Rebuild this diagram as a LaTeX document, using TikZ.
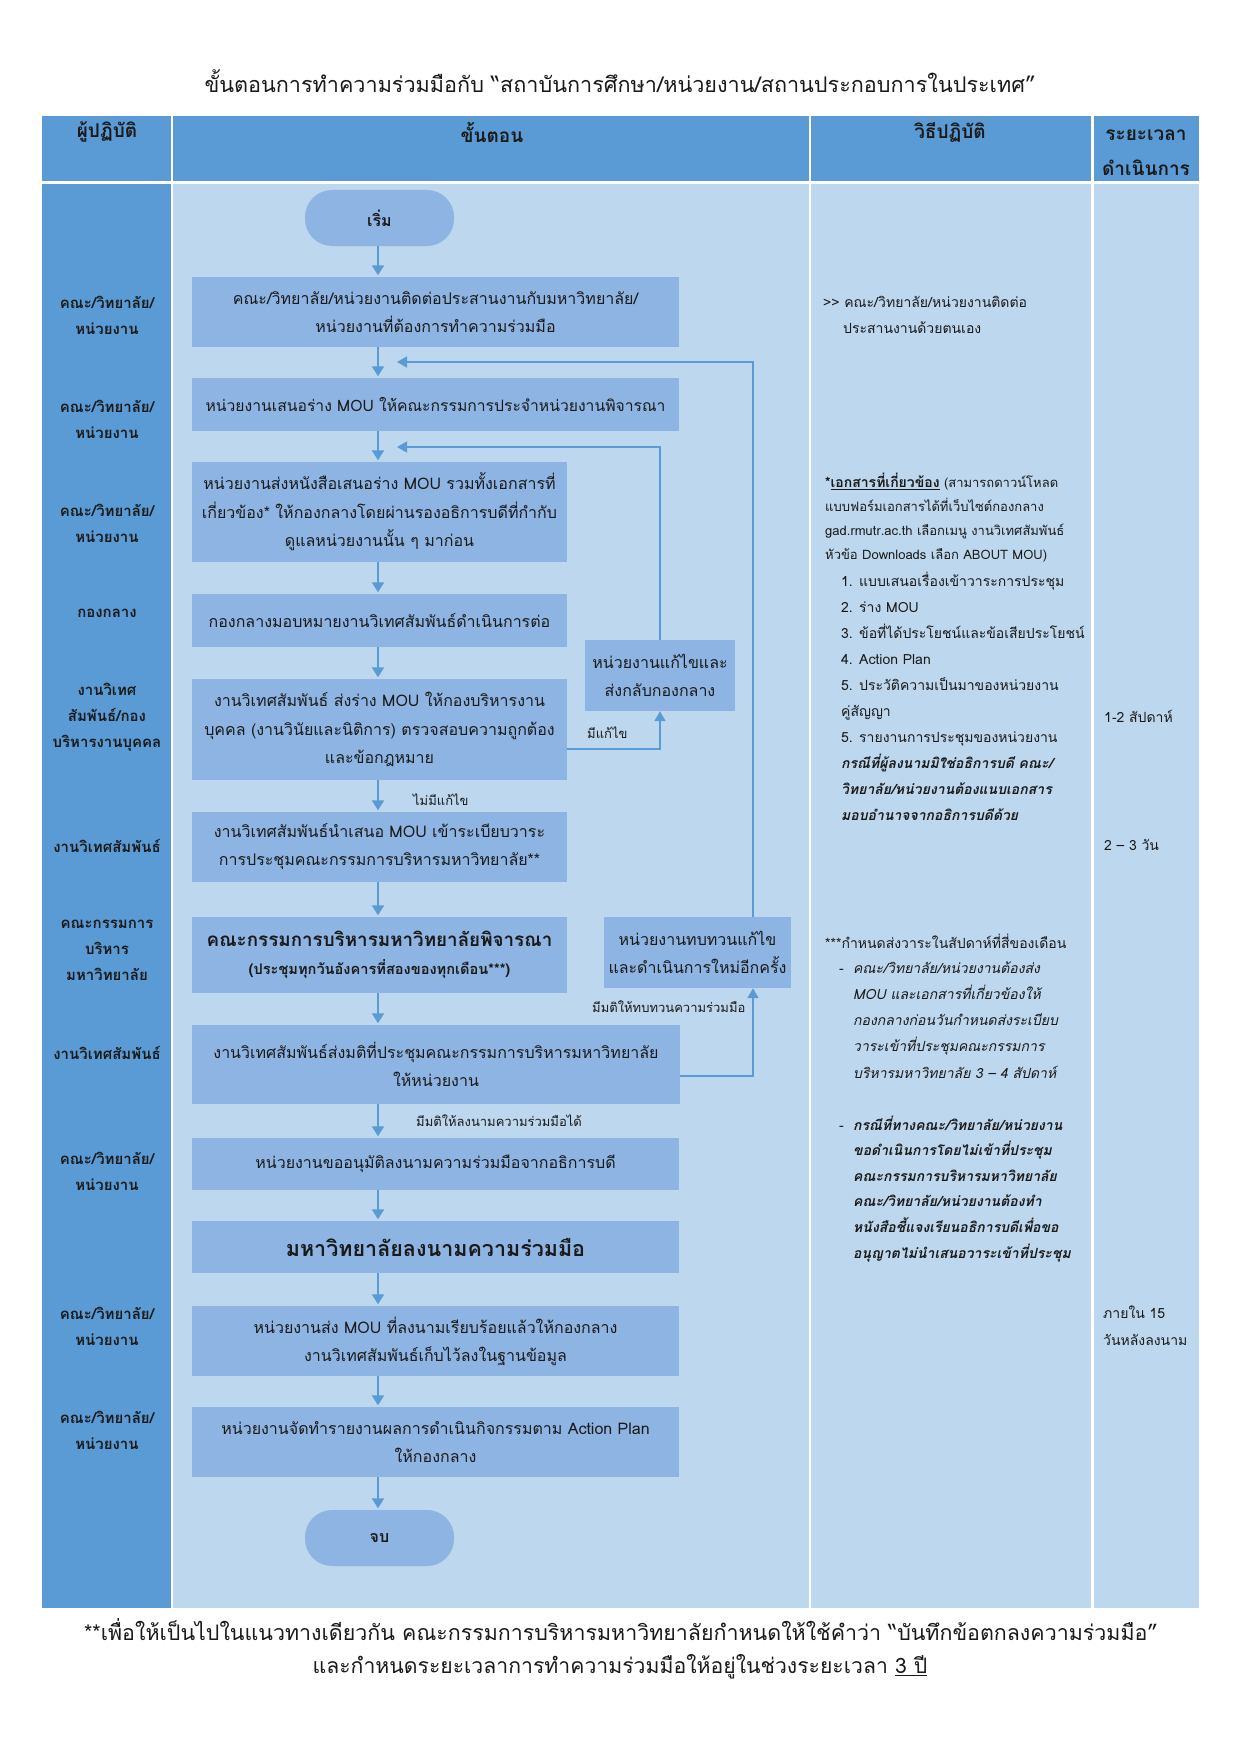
\documentclass[tikz,border=0pt]{standalone}
\usepackage{fontspec}
\setmainfont{Loma}[Script=Thai]
\usetikzlibrary{arrows.meta}
\definecolor{hdr}{HTML}{5B9BD5}
\definecolor{lite}{HTML}{BDD7EE}
\definecolor{boxc}{HTML}{8DB4E2}
\definecolor{txt}{HTML}{1A1A1A}
\newcommand\myfs[2]{\fontsize{#1}{#2}\selectfont}
\tikzset{
  every node/.style={inner sep=0pt, text=txt},
  flow/.style={fill=boxc, align=center, font=\myfs{16}{28}},
  term/.style={fill=boxc, rounded corners=27pt, minimum width=149pt, minimum height=56pt, font=\bfseries\myfs{16}{20}},
  lane/.style={align=center, font=\bfseries\myfs{15}{26}},
  hd/.style={font=\bfseries\myfs{19}{33}, align=center},
  note/.style={align=left, anchor=base west, font=\myfs{14}{26}},
  arr/.style={draw=hdr, line width=2pt, -{Triangle[width=12pt,length=10pt]}, shorten >=1.5pt},
  fb/.style={draw=hdr, line width=1.6pt, -{Triangle[width=11pt,length=10pt]}},
  lbl/.style={anchor=west, font=\myfs{13}{16}},
}
\begin{document}
\begin{tikzpicture}[x=1pt,y=-1pt]
\useasboundingbox[fill=white] (0,0) rectangle (1241,1755);
% title
\node[font=\myfs{21.6}{26}] (title) at (620,81) {ขั้นตอนการทำความร่วมมือกับ “สถาบันการศึกษา/หน่วยงาน/สถานประกอบการในประเทศ”};
% table
\fill[hdr] (42,116) rectangle (1199,1608);
\fill[lite] (172,183) rectangle (1199,1608);
\draw[white,line width=2.5pt] (42,182.5) -- (1199,182.5);
\draw[white,line width=2.2pt] (172,116) -- (172,1608);
\draw[white,line width=2.2pt] (810,116) -- (810,1608);
\draw[white,line width=2.2pt] (1092.5,116) -- (1092.5,1608);
% headers
\node[hd] (h1) at (107,132) {ผู้ปฏิบัติ};
\node[hd] (h2) at (492,132) {ขั้นตอน};
\node[hd] (h3) at (950,132) {วิธีปฏิบัติ};
\node[hd] (h4) at (1146,135) {ระยะเวลา};
\node[hd] (h5) at (1146,168) {ดำเนินการ};
% lanes
\node[lane] (l1) at (107,315) {คณะ/วิทยาลัย/\\หน่วยงาน};
\node[lane] (l2) at (107,419) {คณะ/วิทยาลัย/\\หน่วยงาน};
\node[lane] (l3) at (107,523) {คณะ/วิทยาลัย/\\หน่วยงาน};
\node[lane] (l4) at (107,613) {กองกลาง};
\node[lane] (l5) at (107,717) {งานวิเทศ\\สัมพันธ์/กอง\\บริหารงานบุคคล};
\node[lane] (l6) at (107,846) {งานวิเทศสัมพันธ์};
\node[lane] (l7) at (107,950) {คณะกรรมการ\\บริหาร\\มหาวิทยาลัย};
\node[lane] (l8) at (107,1053) {งานวิเทศสัมพันธ์};
\node[lane] (l9) at (107,1171) {คณะ/วิทยาลัย/\\หน่วยงาน};
\node[lane] (l10) at (107,1326) {คณะ/วิทยาลัย/\\หน่วยงาน};
\node[lane] (l11) at (107,1430) {คณะ/วิทยาลัย/\\หน่วยงาน};
% flow
\coordinate (sp) at (378,0);
\node[term] (st) at (379.5,218) {เริ่ม};
\node[flow, minimum width=487pt, minimum height=70pt] (b1) at (435.5,312) {คณะ/วิทยาลัย/หน่วยงานติดต่อประสานงานกับมหาวิทยาลัย/\\หน่วยงานที่ต้องการทำความร่วมมือ};
\node[flow, minimum width=487pt, minimum height=53pt, font=\myfs{15.7}{28}] (b2) at (435.5,404.5) {หน่วยงานเสนอร่าง MOU ให้คณะกรรมการประจำหน่วยงานพิจารณา};
\node[flow, minimum width=375pt, minimum height=100pt, font=\myfs{16}{28.5}] (b3) at (379.5,512) {หน่วยงานส่งหนังสือเสนอร่าง MOU รวมทั้งเอกสารที่\\เกี่ยวข้อง* ให้กองกลางโดยผ่านรองอธิการบดีที่กำกับ\\ดูแลหน่วยงานนั้น ๆ มาก่อน};
\node[flow, minimum width=375pt, minimum height=53pt] (b4) at (379.5,620.5) {กองกลางมอบหมายงานวิเทศสัมพันธ์ดำเนินการต่อ};
\node[flow, minimum width=375pt, minimum height=101pt, font=\myfs{16}{28.5}] (b5) at (379.5,729.5) {งานวิเทศสัมพันธ์ ส่งร่าง MOU ให้กองบริหารงาน\\บุคคล (งานวินัยและนิติการ) ตรวจสอบความถูกต้อง\\และข้อกฎหมาย};
\node[flow, minimum width=150pt, minimum height=71pt] (s1) at (660,675.5) {หน่วยงานแก้ไขและ\\ส่งกลับกองกลาง};
\node[flow, minimum width=375pt, minimum height=70pt] (b6) at (379.5,847) {งานวิเทศสัมพันธ์นำเสนอ MOU เข้าระเบียบวาระ\\การประชุมคณะกรรมการบริหารมหาวิทยาลัย**};
\node[flow, minimum width=375pt, minimum height=76pt] (b7) at (379.5,955) {{\bfseries\myfs{18.8}{30}คณะกรรมการบริหารมหาวิทยาลัยพิจารณา}\\{\bfseries\myfs{14.6}{20}(ประชุมทุกวันอังคารที่สองของทุกเดือน***)}};
\node[flow, minimum width=187pt, minimum height=71pt] (s2) at (697.5,952.5) {หน่วยงานทบทวนแก้ไข\\และดำเนินการใหม่อีกครั้ง};
\node[flow, minimum width=488pt, minimum height=79pt] (b8) at (436,1064.5) {งานวิเทศสัมพันธ์ส่งมติที่ประชุมคณะกรรมการบริหารมหาวิทยาลัย\\ให้หน่วยงาน};
\node[flow, minimum width=487pt, minimum height=52pt] (b9) at (435.5,1164) {หน่วยงานขออนุมัติลงนามความร่วมมือจากอธิการบดี};
\node[flow, minimum width=487pt, minimum height=52pt, font=\bfseries\myfs{21.5}{28}] (b10) at (435.5,1247) {มหาวิทยาลัยลงนามความร่วมมือ};
\node[flow, minimum width=487pt, minimum height=70pt] (b11) at (435.5,1341) {หน่วยงานส่ง MOU ที่ลงนามเรียบร้อยแล้วให้กองกลาง\\งานวิเทศสัมพันธ์เก็บไว้ลงในฐานข้อมูล};
\node[flow, minimum width=487pt, minimum height=70pt] (b12) at (435.5,1442) {หน่วยงานจัดทำรายงานผลการดำเนินกิจกรรมตาม Action Plan\\ให้กองกลาง};
\node[term] (en) at (379.5,1538) {จบ};
% main arrows
\draw[arr] (st.south -| sp) -- (b1.north -| sp);
\draw[arr] (b1.south -| sp) -- (b2.north -| sp);
\draw[arr] (b2.south -| sp) -- (b3.north -| sp);
\draw[arr] (b3.south -| sp) -- (b4.north -| sp);
\draw[arr] (b4.south -| sp) -- (b5.north -| sp);
\draw[arr] (b5.south -| sp) -- (b6.north -| sp);
\draw[arr] (b6.south -| sp) -- (b7.north -| sp);
\draw[arr] (b7.south -| sp) -- (b8.north -| sp);
\draw[arr] (b8.south -| sp) -- (b9.north -| sp);
\draw[arr] (b9.south -| sp) -- (b10.north -| sp);
\draw[arr] (b10.south -| sp) -- (b11.north -| sp);
\draw[arr] (b11.south -| sp) -- (b12.north -| sp);
\draw[arr] (b12.south -| sp) -- (en.north -| sp);
% feedback
\coordinate (fb1) at (397,362);
\coordinate (fb2) at (397,447);
\draw[fb] ([yshift=-19.5pt]b5.east) -| (s1.south);
\draw[fb] (s1.north) |- (fb2);
\draw[fb] ([yshift=-11.5pt]b8.east) -| ([xshift=55.5pt]s2.south);
\draw[fb] ([xshift=55.5pt]s2.north) |- (fb1);
% labels
\node[lbl] (t1) at (587,733) {มีแก้ไข};
\node[lbl] (t2) at (413,800) {ไม่มีแก้ไข};
\node[lbl] (t3) at (592,1007) {มีมติให้ทบทวนความร่วมมือ};
\node[lbl] (t4) at (416,1121) {มีมติให้ลงนามความร่วมมือได้};
% right column (base anchor = baseline of last line)
\node[note] (r1) at (823,333) {>{}> คณะ/วิทยาลัย/หน่วยงานติดต่อ\\\hspace*{20pt}ประสานงานด้วยตนเอง};
\node[note, font=\myfs{13}{23.7}] (r2) at (825,559) {{\bfseries\myfs{14}{23.7}*\underline{เอกสารที่เกี่ยวข้อง}} (สามารถดาวน์โหลด\\แบบฟอร์มเอกสารได้ที่เว็บไซต์กองกลาง\\gad.rmutr.ac.th เลือกเมนู งานวิเทศสัมพันธ์\\หัวข้อ Downloads เลือก ABOUT MOU)};
\node[note] (r3) at (841,820) {1. แบบเสนอเรื่องเข้าวาระการประชุม\\2. ร่าง MOU\\3. ข้อที่ได้ประโยชน์และข้อเสียประโยชน์\\4. Action Plan\\5. ประวัติความเป็นมาของหน่วยงาน\\คู่สัญญา\\5. รายงานการประชุมของหน่วยงาน\\\textbf{\itshape กรณีที่ผู้ลงนามมิใช่อธิการบดี คณะ/}\\\textbf{\itshape วิทยาลัย/หน่วยงานต้องแนบเอกสาร}\\\textbf{\itshape มอบอำนาจจากอธิการบดีด้วย}};
\node[note] (r4) at (825,948) {***กำหนดส่งวาระในสัปดาห์ที่สี่ของเดือน};
\node[note] (r5d) at (839,973) {-};
\node[note, font=\itshape\myfs{14}{26.2}] (r5) at (853,1078) {คณะ/วิทยาลัย/หน่วยงานต้องส่ง\\MOU และเอกสารที่เกี่ยวข้องให้\\กองกลางก่อนวันกำหนดส่งระเบียบ\\วาระเข้าที่ประชุมคณะกรรมการ\\บริหารมหาวิทยาลัย 3 – 4 สัปดาห์};
\node[note] (r6d) at (839,1130) {-};
\node[note, font=\bfseries\itshape\myfs{14}{25.6}] (r6) at (853,1258) {กรณีที่ทางคณะ/วิทยาลัย/หน่วยงาน\\ขอดำเนินการโดยไม่เข้าที่ประชุม\\คณะกรรมการบริหารมหาวิทยาลัย\\คณะ/วิทยาลัย/หน่วยงานต้องทำ\\หนังสือชี้แจงเรียนอธิการบดีเพื่อขอ\\อนุญาตไม่นำเสนอวาระเข้าที่ประชุม};
% time column
\node[note, font=\myfs{14}{27}] (d1) at (1104,722) {1-2 สัปดาห์};
\node[note, font=\myfs{14}{27}] (d2) at (1104,850) {2 – 3 วัน};
\node[note, font=\myfs{14}{27}] (d3) at (1103,1345) {ภายใน 15\\วันหลังลงนาม};
% footer
\node[font=\myfs{21.4}{26}] (f1) at (621,1630) {**เพื่อให้เป็นไปในแนวทางเดียวกัน คณะกรรมการบริหารมหาวิทยาลัยกำหนดให้ใช้คำว่า “บันทึกข้อตกลงความร่วมมือ”};
\node[font=\myfs{21.2}{26}] (f2) at (620,1667) {และกำหนดระยะเวลาการทำความร่วมมือให้อยู่ในช่วงระยะเวลา \underline{3 ปี}};
\end{tikzpicture}
\end{document}
